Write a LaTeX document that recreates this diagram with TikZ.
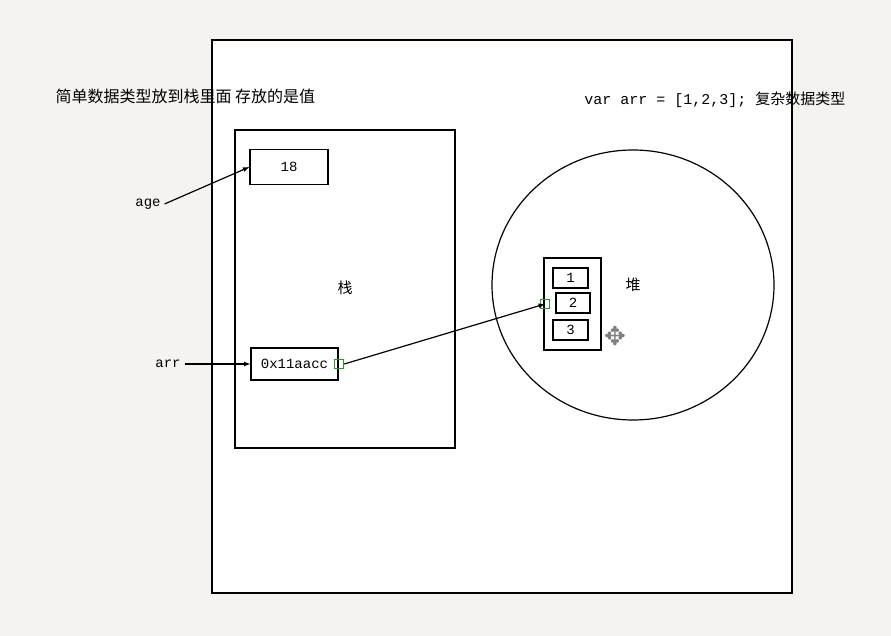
\documentclass[tikz,border=0pt]{standalone}
\usepackage{fontspec}
\setmonofont{Liberation Mono}
\newfontfamily\cjk{Noto Sans CJK SC}
\usetikzlibrary{positioning}
\definecolor{paper}{RGB}{244,243,239}
\definecolor{handle}{RGB}{40,150,40}
\begin{document}
\begin{tikzpicture}[x=1pt,y=-1pt,line width=1.2pt]
    %styles
    \tikzset{big/.style={font=\fontsize{15}{18}\selectfont},
             cell/.style={rectangle,draw,inner sep=0pt,font=\ttfamily\fontsize{14}{16}\selectfont},
             grip/.style={draw=handle,line width=1.5pt,minimum size=9pt,inner sep=0pt},
             link/.style={->,>=latex},
             lbl/.style={font=\ttfamily\fontsize{14}{16}\selectfont}}
    \fill[paper] (0,0) rectangle (891,636);
    \useasboundingbox (0,0) rectangle (891,636);
    \draw[fill=white] (212,40) rectangle (792,593);
    %texts
    \node[anchor=west,inner sep=0pt,font=\fontsize{16}{18}\selectfont] (t1) at (55,96) {\cjk 简单数据类型放到栈里面\ 存放的是值};
    \node[anchor=east,big,inner sep=0pt] (t2) at (846,100) {\ttfamily var arr = [1,2,3];\ \cjk 复杂数据类型};
    %stack
    \draw (235,130) rectangle (455,448);
    \node[cell,minimum width=78pt,minimum height=35pt] (v18) at (289,167) {18};
    \node[cell,minimum width=87pt,minimum height=32pt] (addr) at (294.5,364) {0x11aacc};
    \node[big] (zhan) at (345,288) {\cjk 栈};
    \node[lbl] (age) at (148,204) {age};
    \node[lbl] (arr) at (168,364) {arr};
    \node[grip] (g1) at (339,364) {};
    %heap
    \draw (633,285) ellipse (141 and 135);
    \node[big] (dui) at (633,285) {\cjk 堆};
    \node[cell,minimum width=57pt,minimum height=92pt] (arrbox) at (572.5,304) {};
    \node[cell,minimum width=35pt,minimum height=20pt] (c1) at (570.5,278) {1};
    \node[cell,minimum width=34pt,minimum height=20pt] (c2) at (573,303) {2};
    \node[cell,minimum width=35pt,minimum height=20pt] (c3) at (570.5,330) {3};
    \node[grip] (g2) at (545,304) {};
    \node[text=gray,font=\fontspec{DejaVu Sans}\fontsize{26}{28}\selectfont] (mv) at (615,336) {✥};
    %arrows
    \draw[link] (age.east)--(v18.west);
    \draw[link] (arr.east)--(addr.west);
    \draw[link] (g1.east)--(g2.center);
\end{tikzpicture}
\end{document}
